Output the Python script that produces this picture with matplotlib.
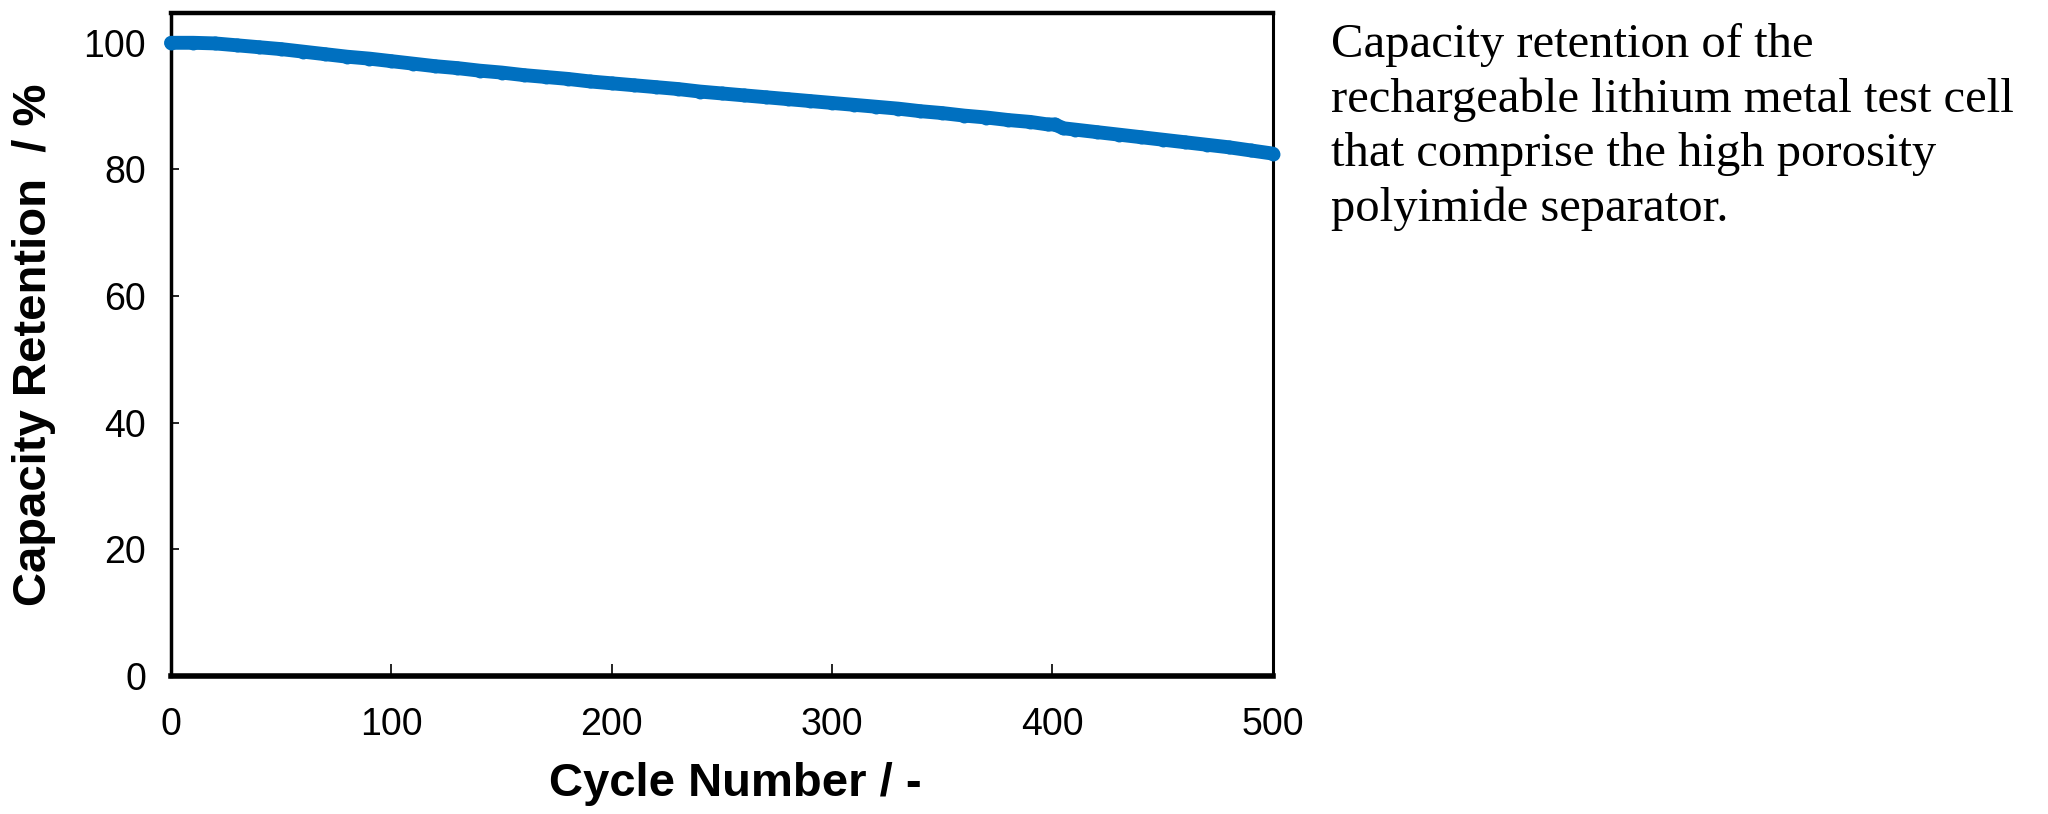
import numpy as np
import matplotlib
matplotlib.use('Agg')
import matplotlib.pyplot as plt

# значения (каждые 10 циклов + излом около 400)
cycles = [0, 10, 20, 30, 40, 50, 60, 70, 80, 90,
          100, 110, 120, 130, 140, 150, 160, 170, 180, 190,
          200, 210, 220, 230, 240, 250, 260, 270, 280, 290,
          300, 310, 320, 330, 340, 350, 360, 370, 380, 390,
          398, 401, 405, 410, 420, 430, 440, 450, 460, 470,
          480, 490, 500]
retention = [100.0, 100.0, 99.9, 99.6, 99.3, 99.0, 98.6, 98.2, 97.8, 97.5,
             97.1, 96.7, 96.3, 96.0, 95.6, 95.3, 94.9, 94.6, 94.3, 93.9,
             93.6, 93.3, 93.0, 92.7, 92.3, 92.0, 91.7, 91.4, 91.1, 90.8,
             90.5, 90.2, 89.9, 89.6, 89.2, 88.9, 88.5, 88.2, 87.8, 87.5,
             87.1, 87.1, 86.5, 86.3, 85.9, 85.5, 85.1, 84.7, 84.3, 83.9,
             83.5, 83.0, 82.5]

x_ticks = [0, 100, 200, 300, 400, 500]
y_ticks = [0, 20, 40, 60, 80, 100]

caption = ('Capacity retention of the\n'
           'rechargeable lithium metal test cell\n'
           'that comprise the high porosity\n'
           'polyimide separator.')

plt.rcParams['font.family'] = ['Liberation Sans', 'DejaVu Sans']

fig = plt.figure(figsize=(20.48, 8.14), dpi=100)
ax = fig.add_axes([0.0835, 0.1695, 0.538, 0.8145])

ax.plot(cycles, retention, color='#0070C0', lw=10, marker='o', ms=9,
        solid_capstyle='round', clip_on=False, zorder=3)

ax.set_xlim(0, 500)
ax.set_ylim(0, 104.7)
ax.set_xticks(x_ticks)
ax.set_yticks(y_ticks)
ax.tick_params(axis='x', direction='in', length=9, width=1.2, pad=22, labelsize=27)
ax.tick_params(axis='y', direction='in', length=6, width=1.2, pad=18, labelsize=27)

ax.spines['left'].set_linewidth(2.5)
ax.spines['right'].set_linewidth(2.2)
ax.spines['top'].set_linewidth(3.2)
ax.spines['bottom'].set_linewidth(4.0)

ax.set_xlabel('Cycle Number / -', fontsize=34, fontweight='bold')
ax.xaxis.set_label_coords(0.512, -0.13)
ax.set_ylabel('Capacity Retention  / %', fontsize=34, fontweight='bold', labelpad=20)

fig.text(0.650, 0.972, caption, fontsize=35, family='Liberation Serif',
         va='top', ha='left', linespacing=1.3)

fig.savefig('out.png', dpi=100)
